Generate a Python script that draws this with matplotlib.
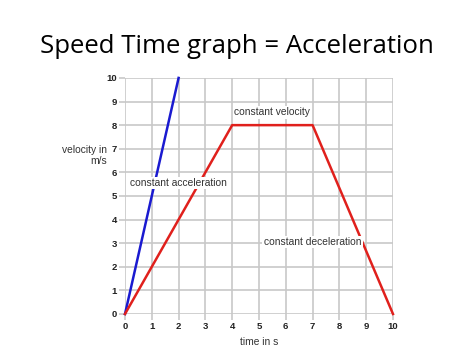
import matplotlib.pyplot as plt

blue_t = [0, 2]
blue_v = [0, 10]
red_t = [0, 4, 7, 10]
red_v = [0, 8, 8, 0]
ticks = list(range(0, 11))

plt.rcParams["font.family"] = ["Liberation Sans", "DejaVu Sans"]

fig = plt.figure(figsize=(4.74, 3.55), dpi=100)
fig.text(0.5, 0.868, "Speed Time graph = Acceleration", ha="center", va="center",
         fontsize=18.5, family="Open Sans")

ax = fig.add_axes([0.2637, 0.1155, 0.5654, 0.665])
ax.set_xlim(0, 10)
ax.set_ylim(0, 10)
ax.set_xticks(ticks)
ax.set_yticks(ticks)
ax.grid(True, color="#c8c8c8", linewidth=1.2)
ax.set_axisbelow(True)
for s in ax.spines.values():
    s.set_visible(False)
ax.tick_params(length=4, color="#c8c8c8", width=1.2, labelsize=6.8, pad=2)
for lab in ax.get_xticklabels() + ax.get_yticklabels():
    lab.set_fontweight("bold")
    lab.set_color("#222222")

ax.plot(blue_t, blue_v, color="#1a1ad0", linewidth=1.8, clip_on=False, zorder=3)
ax.plot(red_t, red_v, color="#e0201c", linewidth=1.8, clip_on=False, zorder=3)

box = dict(facecolor="white", edgecolor="none", pad=1)
ax.text(2.0, 5.55, "constant acceleration", ha="center", va="center", fontsize=7.4,
        color="#333333", bbox=box, zorder=4)
ax.text(5.5, 8.55, "constant velocity", ha="center", va="center", fontsize=7.4,
        color="#333333", bbox=box, zorder=4)
ax.text(7.0, 3.05, "constant deceleration", ha="center", va="center", fontsize=7.4,
        color="#333333", bbox=box, zorder=4)

fig.text(0.226, 0.563, "velocity in\nm/s", ha="right", va="center", fontsize=7.4,
         color="#333333", linespacing=1.15)
ax.set_xlabel("time in s", fontsize=7.4, color="#333333", labelpad=4)

fig.savefig("out.png", dpi=100)
